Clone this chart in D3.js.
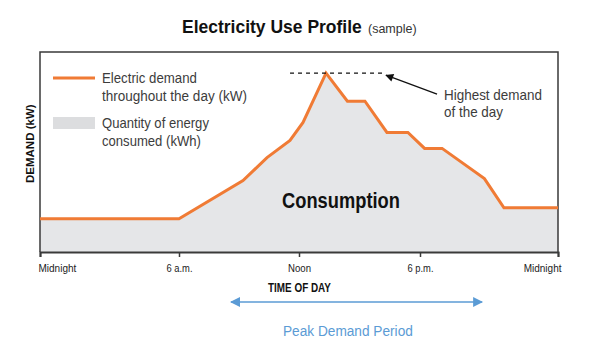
<!DOCTYPE html>
<html>
<head>
<meta charset="utf-8">
<script src="https://cdn.jsdelivr.net/npm/d3@7"></script>
<style>
  html, body { margin: 0; padding: 0; background: #fff; }
  svg text { font-family: "Liberation Sans", Arial, sans-serif; }
</style>
</head>
<body>
<svg id="chart" width="604" height="352"></svg>
<script>
// ---- data ----
const hours  = [0, 6, 9.2, 10.4, 11.55, 12.2, 13.34, 14.4, 15.27, 16.36, 17.4, 18.2, 18.96, 20.8, 21.65, 24];
const demand = [16.6, 16.6, 35.7, 47.2, 55.8, 64.8, 89.4, 75.4, 75.4, 59.8, 59.8, 51.8, 51.8, 36.7, 22.1, 22.1];
const tickHours  = [0, 6, 12, 18, 24];
const tickLabels = ["Midnight", "6 a.m.", "Noon", "6 p.m.", "Midnight"];
const peakPeriod = [8.6, 20.7];
const legendLabels = [["Electric demand", "throughout the day (kW)"], ["Quantity of energy", "consumed (kWh)"]];

const ORANGE = "#f07b35", GREY = "#e5e6e8", FRAME = "#3a3a3a", BLUE = "#5b9bd5", TXT = "#3c3c3c";

const svg = d3.select("#chart");
const mLeft = 40, mRight = 558, mTop = 52, mBottom = 252;

const x = d3.scaleLinear().domain(tickHours).range([40, 179, 299, 420, 558]);
const y = d3.scaleLinear().domain([0, 100]).range([mBottom, mTop]);

const data = hours.map((h, i) => ({ h, v: demand[i] }));

// condense a text horizontally to a target width (about its anchor point)
function fit(sel, w, pre) {
  const node = sel.node();
  const natural = node.getComputedTextLength();
  const s = Math.min(1, w / natural);
  const x0 = +(sel.attr("x") || 0);
  sel.attr("x", 0).attr("transform", `${pre || ""} translate(${x0},0) scale(${s},1)`);
  return sel;
}

// area
svg.append("path")
  .datum(data)
  .attr("d", d3.area().x(d => x(d.h)).y0(y(0)).y1(d => y(d.v)))
  .attr("fill", GREY);

// frame (left, top, right)
svg.append("path")
  .attr("d", `M${mLeft},${mBottom}V${mTop}H${mRight}V${mBottom}`)
  .attr("fill", "none").attr("stroke", FRAME).attr("stroke-width", 1.5);

// line
svg.append("path")
  .datum(data)
  .attr("d", d3.line().x(d => x(d.h)).y(d => y(d.v)))
  .attr("fill", "none").attr("stroke", ORANGE).attr("stroke-width", 3)
  .attr("stroke-linejoin", "miter");

// x axis
const tickW = [38, 26, 23, 26, 38];
const axis = d3.axisBottom(x).tickValues(tickHours).tickFormat((d, i) => tickLabels[i]).tickSize(5).tickPadding(8);
const gx = svg.append("g").attr("transform", `translate(0,${mBottom})`).call(axis);
gx.attr("font-family", null);
gx.select(".domain").attr("stroke", FRAME).attr("stroke-width", 2);
gx.selectAll(".tick line").attr("stroke", FRAME).attr("stroke-width", 1.5);
gx.selectAll(".tick text").attr("font-size", 10).attr("fill", "#222")
  .attr("text-anchor", (d, i) => i === 0 ? "start" : i === tickHours.length - 1 ? "end" : "middle")
  .attr("x", (d, i) => i === 0 ? -2 : i === tickHours.length - 1 ? 3 : 0)
  .each(function (d, i) { fit(d3.select(this), tickW[i]); });

// axis titles
fit(svg.append("text").attr("x", 268).attr("y", 292)
  .attr("font-size", 12).attr("font-weight", "bold").attr("fill", "#111")
  .text("TIME OF DAY"), 63);
fit(svg.append("text").attr("y", 0)
  .attr("font-size", 11.5).attr("font-weight", "bold").attr("fill", "#111")
  .text("DEMAND (kW)"), 80, "translate(34,183) rotate(-90)");

// title
fit(svg.append("text").attr("x", 182).attr("y", 33).attr("font-size", 19).attr("font-weight", "bold")
  .attr("fill", "#111").text("Electricity Use Profile"), 180);
fit(svg.append("text").attr("x", 368).attr("y", 33).attr("font-size", 12.5)
  .attr("fill", "#333").text("(sample)"), 49);

// legend
const legW = [[95, 145], [107, 99]];
legendLabels.forEach((lines, i) => {
  const g = svg.append("g").attr("transform", `translate(53,${78 + i * 45})`);
  if (i === 0) {
    g.append("line").attr("x1", 0).attr("x2", 42).attr("y1", 0).attr("y2", 0)
      .attr("stroke", ORANGE).attr("stroke-width", 3);
  } else {
    g.append("rect").attr("x", 0).attr("y", -6).attr("width", 42).attr("height", 12).attr("fill", "#dcdddf");
  }
  lines.forEach((t, j) => {
    fit(g.append("text").attr("x", 49).attr("y", 4.5 + j * 18.5).attr("font-size", 14).attr("fill", TXT).text(t), legW[i][j]);
  });
});

// peak annotation
const peakIdx = demand.indexOf(d3.max(demand));
const px = x(hours[peakIdx]), py = y(demand[peakIdx]);
svg.append("line").attr("x1", px - 36).attr("x2", px + 57).attr("y1", py).attr("y2", py)
  .attr("stroke", "#111").attr("stroke-width", 1.3).attr("stroke-dasharray", "4,4");

const defs = svg.append("defs");
defs.append("marker").attr("id", "ah").attr("viewBox", "0 0 10 10").attr("refX", 9).attr("refY", 5)
  .attr("markerWidth", 10).attr("markerHeight", 8).attr("markerUnits", "userSpaceOnUse").attr("orient", "auto")
  .append("path").attr("d", "M0,0L10,5L0,10Z").attr("fill", "#111");
svg.append("line").attr("x1", px + 111).attr("y1", py + 21).attr("x2", px + 60).attr("y2", py + 2)
  .attr("stroke", "#111").attr("stroke-width", 1.3).attr("marker-end", "url(#ah)");
[["Highest demand", 98], ["of the day", 59]].forEach(([t, w], j) => {
  fit(svg.append("text").attr("x", px + 118).attr("y", py + 27 + j * 17).attr("font-size", 14).attr("fill", TXT).text(t), w);
});

// consumption label
fit(svg.append("text").attr("x", 282).attr("y", 208)
  .attr("font-size", 22).attr("font-weight", "bold").attr("fill", "#111").text("Consumption"), 118);

// peak demand period
defs.append("marker").attr("id", "bh").attr("viewBox", "0 0 10 10").attr("refX", 9).attr("refY", 5)
  .attr("markerWidth", 10).attr("markerHeight", 10).attr("markerUnits", "userSpaceOnUse").attr("orient", "auto-start-reverse")
  .append("path").attr("d", "M0,0L10,5L0,10Z").attr("fill", BLUE);
svg.append("line").attr("x1", x(peakPeriod[0])).attr("x2", x(peakPeriod[1])).attr("y1", 302).attr("y2", 302)
  .attr("stroke", BLUE).attr("stroke-width", 1.5)
  .attr("marker-start", "url(#bh)").attr("marker-end", "url(#bh)");
fit(svg.append("text").attr("x", 283).attr("y", 336)
  .attr("font-size", 14.5).attr("fill", BLUE).text("Peak Demand Period"), 130);
</script>
</body>
</html>
